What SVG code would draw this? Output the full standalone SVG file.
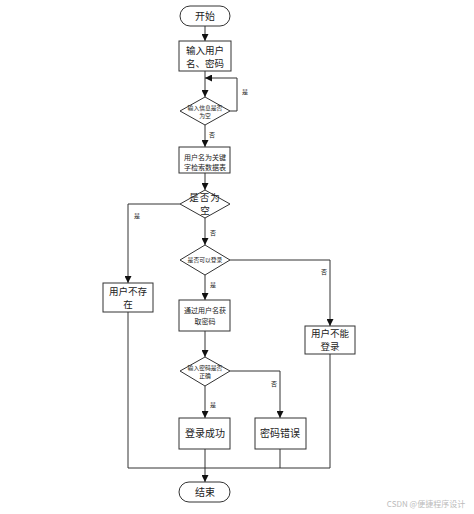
<svg xmlns="http://www.w3.org/2000/svg" width="474" height="514" viewBox="0 0 474 514">
<style>
.s{fill:#fff;stroke:#333;stroke-width:1}
.c{fill:none;stroke:#333;stroke-width:1}
text{font-family:"Noto Sans CJK SC","Liberation Sans",sans-serif;fill:#222;text-anchor:middle}
.m{font-size:10px}
.m2{font-size:9.5px}
.sm{font-size:7px}
.xs{font-size:5.8px}
.lb{font-size:6px}
</style>
<defs>
<marker id="a" viewBox="0 0 10 10" refX="10" refY="5" markerWidth="7" markerHeight="7" markerUnits="userSpaceOnUse" orient="auto">
<path d="M0,0 L10,5 L0,10 z" fill="#111"/>
</marker>
</defs>
<rect width="474" height="514" fill="#fff"/>
<g id="connectors">
<path class="c" d="M205,26 V41" marker-end="url(#a)"/>
<path class="c" d="M205,71 V97" marker-end="url(#a)"/>
<path class="c" d="M230,111 H237 V78 H205" marker-end="url(#a)"/>
<path class="c" d="M205,125 V147" marker-end="url(#a)"/>
<path class="c" d="M205,173 V190" marker-end="url(#a)"/>
<path class="c" d="M180,204 H128 V283" marker-end="url(#a)"/>
<path class="c" d="M205,218 V245" marker-end="url(#a)"/>
<path class="c" d="M230,260 H330 V326" marker-end="url(#a)"/>
<path class="c" d="M205,275 V300" marker-end="url(#a)"/>
<path class="c" d="M205,331 V357" marker-end="url(#a)"/>
<path class="c" d="M230,371 H280 V418" marker-end="url(#a)"/>
<path class="c" d="M205,386 V418" marker-end="url(#a)"/>
<path class="c" d="M205,449 V482" marker-end="url(#a)"/>
<path class="c" d="M128,312 V468 H330 V354"/>
<path class="c" d="M280,449 V468"/>
<text class="lb" x="245" y="94">是</text>
<text class="lb" x="212" y="137">否</text>
<text class="lb" x="137" y="218">是</text>
<text class="lb" x="213" y="235">否</text>
<text class="lb" x="324" y="274">否</text>
<text class="lb" x="213" y="287">是</text>
<text class="lb" x="274" y="386">否</text>
<text class="lb" x="213" y="407">是</text>
</g>
<g id="start">
<rect class="s" x="180" y="6" width="50" height="20" rx="10"/>
<text class="m" x="205" y="19.5">开始</text>
</g>
<g id="input">
<rect class="s" x="179" y="41" width="52" height="30"/>
<text class="m2" x="205" y="53.5">输入用户</text>
<text class="m2" x="205" y="67">名、密码</text>
</g>
<g id="d1">
<polygon class="s" points="205,97 230,111 205,125 180,111"/>
<text class="xs" x="205" y="109.5">输入信息是否</text>
<text class="xs" x="205" y="117.5">为空</text>
</g>
<g id="search">
<rect class="s" x="179" y="147" width="51" height="26"/>
<text class="sm" x="205" y="159.5">用户名为关键</text>
<text class="sm" x="205" y="170">字检索数据表</text>
</g>
<g id="d2">
<polygon class="s" points="205,190 230,204 205,218 180,204"/>
<text class="m2" x="205" y="200.5" letter-spacing="1">是否为</text>
<text class="m2" x="205" y="214">空</text>
</g>
<g id="d3">
<polygon class="s" points="205,245 230,260 205,275 180,260"/>
<text class="xs" x="205" y="262">是否可以登录</text>
</g>
<g id="notexist">
<rect class="s" x="103" y="283" width="50" height="29"/>
<text class="m2" x="128" y="294.5">用户不存</text>
<text class="m2" x="128" y="308">在</text>
</g>
<g id="getpwd">
<rect class="s" x="179" y="300" width="51" height="31"/>
<text class="sm" x="205" y="312.5">通过用户名获</text>
<text class="sm" x="205" y="323.5">取密码</text>
</g>
<g id="cannot">
<rect class="s" x="305" y="326" width="50" height="28"/>
<text class="m2" x="330" y="336.5">用户不能</text>
<text class="m2" x="330" y="350">登录</text>
</g>
<g id="d4">
<polygon class="s" points="205,357 230,371 205,386 180,371"/>
<text class="xs" x="205" y="369.5">输入密码是否</text>
<text class="xs" x="205" y="377.5">正确</text>
</g>
<g id="success">
<rect class="s" x="179" y="418" width="51" height="31"/>
<text class="m" x="205" y="437">登录成功</text>
</g>
<g id="wrong">
<rect class="s" x="255" y="418" width="51" height="31"/>
<text class="m" x="280" y="437">密码错误</text>
</g>
<g id="end">
<rect class="s" x="179" y="482" width="51" height="20" rx="10"/>
<text class="m" x="205" y="495.5">结束</text>
</g>
<text x="426" y="507" style="font-size:8px;fill:#bbb">CSDN @便捷程序设计</text>
</svg>
